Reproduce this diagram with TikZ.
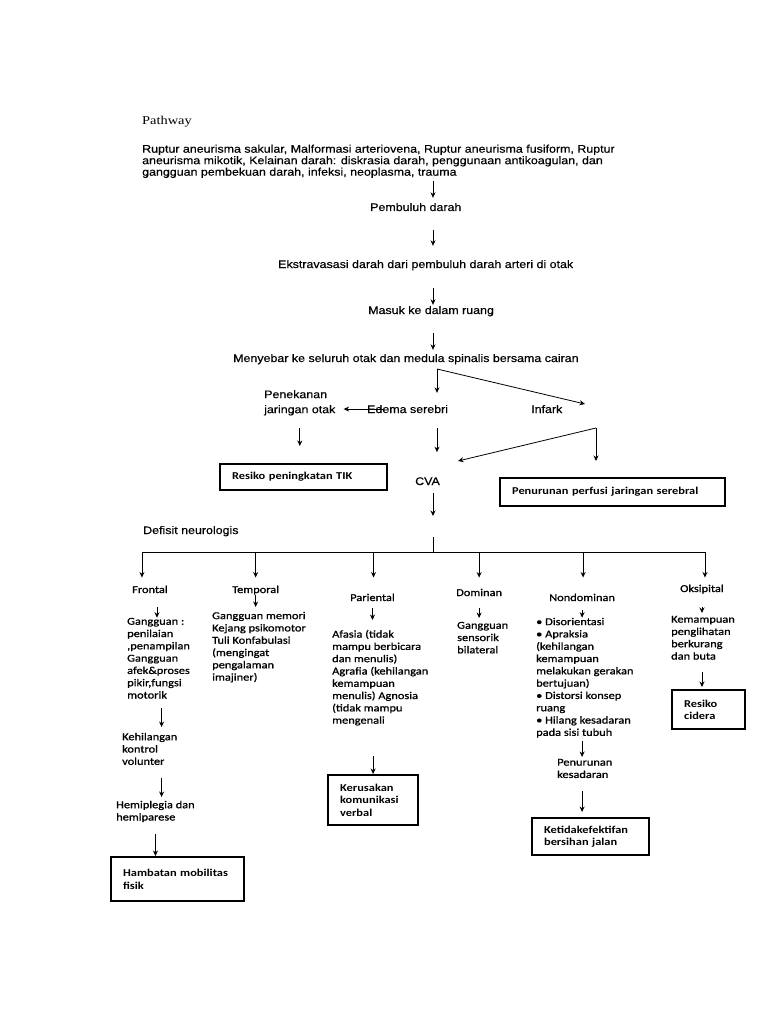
\documentclass[tikz,border=0pt]{standalone}
\usepackage{fontspec}
\setmainfont{Liberation Sans}
\newfontfamily\judulfont[FakeStretch=1.2]{Liberation Serif}
\newfontfamily\arialfont[FakeStretch=1.13, FakeBold=0.4]{Liberation Sans}
\newfontfamily\calfont[FakeStretch=1.18]{Carlito}
\newfontfamily\isifont[FakeStretch=1.18, FakeBold=1]{Carlito}
\usetikzlibrary{arrows.meta, positioning}

\tikzset{
  judul/.style={font=\judulfont\fontsize{12}{14}\selectfont, inner sep=0pt, anchor=base west},
  paragraf/.style={font=\arialfont\fontsize{11}{11.5}\selectfont, inner sep=0pt, anchor=north west, align=left},
  teks/.style={font=\arialfont\fontsize{11}{15}\selectfont, inner sep=0pt, anchor=base west},
  kepala/.style={font=\isifont\fontsize{10.5}{12.3}\selectfont, inner sep=0pt, anchor=base west},
  isi/.style={font=\isifont\fontsize{10.5}{12.3}\selectfont, inner sep=0pt, anchor=north west, align=left},
  hasil/.style={draw, line width=2.2pt, anchor=north west, align=left,
    font=\calfont\bfseries\fontsize{10.5}{12.5}\selectfont, inner xsep=12pt, inner ysep=0pt},
  panah/.style={-{Stealth[length=5.5pt, width=5pt]}, line width=0.8pt},
}

\begin{document}
\begin{tikzpicture}[x=1pt, y=-1pt]
  \useasboundingbox (0,0) rectangle (768,1024);

  % Judul dan penyebab
  \node[judul] (pathway) at (142,125) {Pathway};
  \node[paragraf] (penyebab) at (142,144.5) {Ruptur aneurisma sakular, Malformasi arteriovena, Ruptur aneurisma fusiform, Ruptur\\
    aneurisma mikotik, Kelainan darah: diskrasia darah, penggunaan antikoagulan, dan\\
    gangguan pembekuan darah, infeksi, neoplasma, trauma};

  % Alur tengah
  \coordinate (poros) at (433,0);
  \node[teks] (pembuluh) at (370,211) {Pembuluh darah};
  \node[teks] (ekstra) at (278,268) {Ekstravasasi darah dari pembuluh darah arteri di otak};
  \node[teks] (masuk) at (368,314) {Masuk ke dalam ruang};
  \node[teks] (menyebar) at (233,362) {Menyebar ke seluruh otak dan medula spinalis bersama cairan};

  \draw[panah, shorten <=2.5pt, shorten >=5pt] (penyebab.south -| poros) -- (pembuluh.north -| poros);
  \draw[panah, shorten <=19pt, shorten >=14pt] (pembuluh.south -| poros) -- (ekstra.north -| poros);
  \draw[panah, shorten <=17.5pt, shorten >=1pt] (ekstra.south -| poros) -- (masuk.north -| poros);
  \draw[panah, shorten <=17pt, shorten >=4pt] (masuk.south -| poros) -- (menyebar.north -| poros);

  % Percabangan
  \coordinate (cabang) at (437,369);
  \coordinate (ujunginfark) at (585,404);
  \node[teks, anchor=north west, align=left] (penekanan) at (264,390) {Penekanan\\jaringan otak};
  \node[teks] (edema) at (367,413) {Edema serebri};
  \node[teks] (infark) at (531,413) {Infark};
  \node[teks] (cva) at (415,485) {CVA};

  \draw[panah, shorten >=12pt] (cabang) -- (cabang |- edema.north);
  \draw[panah] (cabang) -- (ujunginfark);
  \draw[panah, shorten >=8pt] ([xshift=16pt]edema.west) -- (edema.west -| penekanan.east);

  \node[hasil, text width=143pt, minimum height=26pt] (tik) at (219,463) {Resiko peningkatan TIK};
  \node[hasil, text width=201pt, minimum height=28pt] (perfusi) at (499,477) {Penurunan perfusi jaringan serebral};

  \draw[panah, shorten <=12.7pt, shorten >=17pt] (penekanan.south) -- (penekanan.south |- tik.north);
  \draw[panah, shorten <=15pt, shorten >=25pt] (cabang |- edema.south) -- (cabang |- cva.north);

  \coordinate (sudut) at (596,428);
  \coordinate (ujungcva) at (458,461);
  \draw[panah] (sudut) -- (ujungcva);
  \draw[panah, shorten >=16pt] (sudut) -- (sudut |- perfusi.north);

  % Defisit neurologis
  \coordinate (pusat) at (433,552);
  \node[teks] (defisit) at (143,534) {Defisit neurologis};
  \draw[panah, shorten <=8pt, shorten >=36pt] (cva.south -| poros) -- (pusat);
  \draw[line width=0.8pt] ([yshift=15pt]pusat) -- (pusat);

  \node[kepala] (frontal) at (132,593) {Frontal};
  \node[kepala] (temporal) at (232,593) {Temporal};
  \node[kepala] (pariental) at (350,601) {Pariental};
  \node[kepala] (dominan) at (456,596) {Dominan};
  \node[kepala] (nondominan) at (549,601) {Nondominan};
  \node[kepala] (oksipital) at (680,592) {Oksipital};

  \draw[line width=0.8pt] ([xshift=-8pt]pusat -| frontal) -- ([xshift=3pt]pusat -| oksipital);
  \foreach \n/\dx/\g in {frontal/-8/8, temporal/0/8, pariental/1/16, dominan/0/11, nondominan/1/16, oksipital/3/7}
    \draw[panah, shorten >=\g pt] ([xshift=\dx pt]pusat -| \n) -- ([xshift=\dx pt]\n.north);

  % Frontal
  \node[isi] (gangfront) at (127,617.7) {Gangguan :\\penilaian\\,penampilan\\Gangguan\\afek\&proses\\pikir,fungsi\\motorik};
  \node[isi] (kehilangan) at (122,732.7) {Kehilangan\\kontrol\\volunter};
  \node[isi] (hemiplegia) at (116,800.7) {Hemiplegia dan\\hemiparese};
  \node[hasil, text width=109pt, minimum height=44pt] (hambatan) at (110,856) {Hambatan mobilitas\\fisik};

  \draw[panah, shorten <=14pt] ([xshift=7pt]frontal.south) -- ([xshift=7pt]frontal.south |- gangfront.north);
  \draw[panah, shorten <=9pt, shorten >=5.7pt] ([xshift=3pt]gangfront.south) -- ([xshift=3pt]gangfront.south |- kehilangan.north);
  \draw[panah, shorten <=13pt, shorten >=3.7pt] ([xshift=3pt]gangfront.south |- kehilangan.south) -- ([xshift=3pt]gangfront.south |- hemiplegia.north);
  \draw[panah, shorten <=11.7pt] (hemiplegia.south) -- (hemiplegia.south |- hambatan.north);

  % Temporal
  \node[isi] (gangtemp) at (212,611.7) {Gangguan memori\\Kejang psikomotor\\Tuli Konfabulasi\\(mengingat\\pengalaman\\imajiner)};
  \draw[panah, shorten >=4.7pt] (temporal.south) -- (temporal.south |- gangtemp.north);

  % Pariental
  \node[isi] (afasia) at (332,629.7) {Afasia (tidak\\mampu berbicara\\dan menulis)\\Agrafia (kehilangan\\kemampuan\\menulis) Agnosia\\(tidak mampu\\mengenali};
  \node[hasil, text width=66pt, minimum height=50pt] (kerusakan) at (327,774) {Kerusakan\\komunikasi\\verbal};
  \draw[panah, shorten <=7pt, shorten >=9.7pt] (pariental.south) -- (pariental.south |- afasia.north);
  \draw[panah, shorten <=30.7pt] (kerusakan.north |- afasia.south) -- (kerusakan.north);

  % Dominan
  \node[isi] (sensorik) at (457,621.7) {Gangguan\\sensorik\\bilateral};
  \draw[panah, shorten <=12pt, shorten >=3.7pt] (dominan.south) -- (dominan.south |- sensorik.north);

  % Nondominan
  \node[isi] (disorientasi) at (536,617.7) {• Disorientasi\\• Apraksia\\(kehilangan\\kemampuan\\melakukan gerakan\\bertujuan)\\• Distorsi konsep\\ruang\\• Hilang kesadaran\\pada sisi tubuh};
  \node[isi] (kesadaran) at (557,758.7) {Penurunan\\kesadaran};
  \node[hasil, text width=93pt, minimum height=37pt] (ketidak) at (531,817) {Ketidakefektifan\\bersihan jalan};
  \draw[panah, shorten <=9pt] (nondominan.south) -- (nondominan.south |- disorientasi.north);
  \draw[panah, shorten <=3.7pt, shorten >=1.7pt] (nondominan.south |- disorientasi.south) -- (nondominan.south |- kesadaran.north);
  \draw[panah, shorten <=13pt, shorten >=5pt] (nondominan.south |- kesadaran.south) -- (nondominan.south |- ketidak.north);

  % Oksipital
  \node[isi] (kemampuan) at (671,615.7) {Kemampuan\\penglihatan\\berkurang\\dan buta};
  \node[hasil, text width=49pt, minimum height=39pt] (cidera) at (671,689) {Resiko\\cidera};
  \draw[panah, shorten <=12.7pt, shorten >=2.7pt] (oksipital.south) -- (oksipital.south |- kemampuan.north);
  \draw[panah, shorten <=12pt, shorten >=2pt] (oksipital.south |- kemampuan.south) -- (oksipital.south |- cidera.north);
\end{tikzpicture}
\end{document}
